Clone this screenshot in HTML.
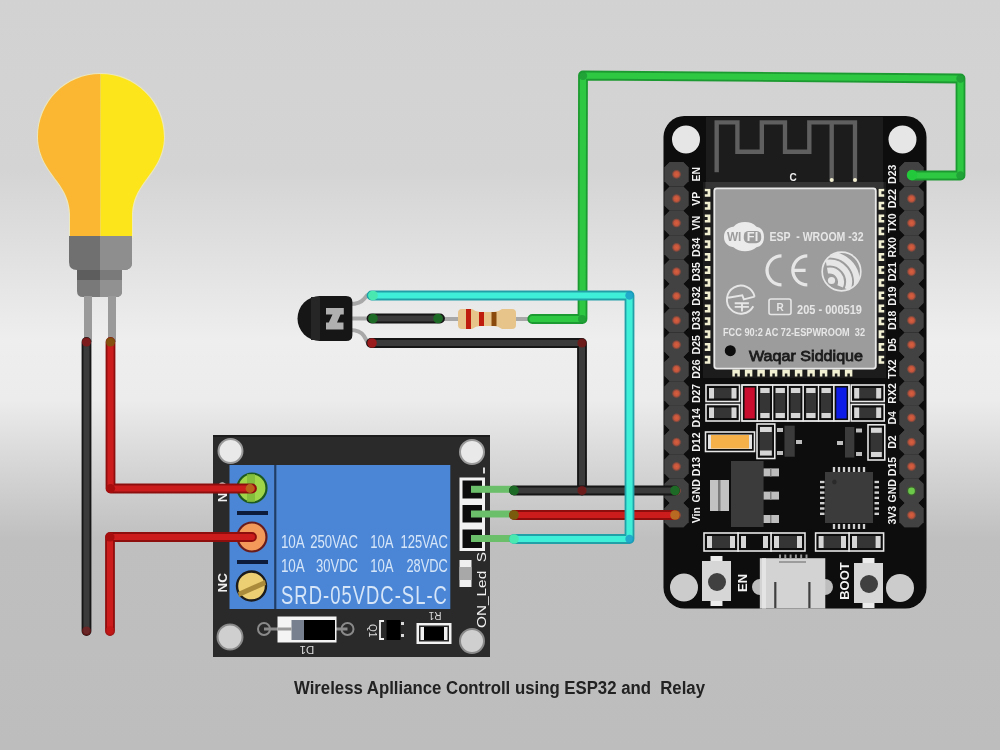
<!DOCTYPE html>
<html><head><meta charset="utf-8">
<style>
html,body{margin:0;padding:0;width:1000px;height:750px;overflow:hidden;background:#bdbdbd;}
svg{display:block;font-family:"Liberation Sans",sans-serif;will-change:transform;}
</style></head>
<body>
<svg width="1000" height="750" viewBox="0 0 1000 750">
<defs>
<filter id="soft" x="0" y="0" width="1000" height="750" filterUnits="userSpaceOnUse"><feGaussianBlur stdDeviation="0.6"/></filter>
<linearGradient id="bg" x1="0" y1="0" x2="0" y2="1">
<stop offset="0" stop-color="#d2d2d2"/>
<stop offset="0.227" stop-color="#d4d4d4"/>
<stop offset="0.333" stop-color="#e0e0e0"/>
<stop offset="0.453" stop-color="#eeeeee"/>
<stop offset="0.533" stop-color="#ececec"/>
<stop offset="0.613" stop-color="#d8d8d8"/>
<stop offset="0.72" stop-color="#bfbfbf"/>
<stop offset="1" stop-color="#bdbdbd"/>
</linearGradient>
<radialGradient id="pindot">
<stop offset="0" stop-color="#d8603f"/>
<stop offset="0.55" stop-color="#c4553b"/>
<stop offset="1" stop-color="#4a4040"/>
</radialGradient>
</defs>
<g filter="url(#soft)">
<rect x="0" y="0" width="1000" height="750" fill="url(#bg)"/>
<!-- BULB -->
<g id="bulb">
<clipPath id="bulbclip"><path d="M100.5,74 C135.5,74 164,102 164,137 C164,157 153,170 145,181 C137,192 132.5,201 132,214 L132,237 L70,237 L70,214 C69.5,201 65,192 57,181 C49,170 38,157 38,137 C38,102 65.5,74 100.5,74 Z"/></clipPath>
<path d="M100.5,74 C135.5,74 164,102 164,137 C164,157 153,170 145,181 C137,192 132.5,201 132,214 L132,237 L70,237 L70,214 C69.5,201 65,192 57,181 C49,170 38,157 38,137 C38,102 65.5,74 100.5,74 Z" fill="none" stroke="#f6efb0" stroke-width="2" opacity="0.7"/>
<g clip-path="url(#bulbclip)">
<rect x="30" y="70" width="70.5" height="170" fill="#fbb733"/>
<rect x="100.5" y="70" width="70" height="170" fill="#fde51f"/>
</g>
<path d="M69,236 L132,236 L132,262 Q132,270 124,270 L77,270 Q69,270 69,262 Z" fill="#6f6f6f"/>
<path d="M100,236 L132,236 L132,262 Q132,270 124,270 L100,270 Z" fill="#8e8e8e"/>
<rect x="77" y="270" width="45" height="10" fill="#5d5d5d"/>
<rect x="100" y="270" width="22" height="10" fill="#7a7a7a"/>
<path d="M77,280 L122,280 L122,291 Q122,297 116,297 L83,297 Q77,297 77,291 Z" fill="#797979"/>
<path d="M100,280 L122,280 L122,291 Q122,297 116,297 L100,297 Z" fill="#919191"/>
<rect x="84" y="296" width="8" height="46" fill="#9a9a9a"/>
<rect x="108" y="296" width="8" height="46" fill="#9a9a9a"/>
</g>

<!-- RELAY BOARD -->
<g id="relay">
<rect x="213" y="435" width="277" height="222" fill="#2a2a2a"/>
<rect x="213" y="435" width="277" height="2" fill="#1a1a1a"/>
<circle cx="230.5" cy="451" r="12" fill="#e9e9e9" stroke="#9a9a9a" stroke-width="2"/>
<circle cx="472" cy="452" r="12" fill="#e9e9e9" stroke="#9a9a9a" stroke-width="2"/>
<circle cx="230" cy="637" r="12.5" fill="#cfcfcf" stroke="#8a8a8a" stroke-width="2"/>
<circle cx="472" cy="641" r="12" fill="#cfcfcf" stroke="#8a8a8a" stroke-width="2"/>
<!-- terminal block -->
<rect x="229.5" y="465" width="45" height="144" fill="#4b86d6"/>
<rect x="274.5" y="465" width="1.8" height="144" fill="#1e3c6a"/>
<rect x="276.3" y="465" width="174" height="144" fill="#4b86d6"/>
<circle cx="252" cy="488" r="14.5" fill="#9fd64a" stroke="#1f5a22" stroke-width="2.2"/>
<path d="M247,474 L255,474 L255,502 L247,502 Z" fill="#7cb83a" opacity="0.8"/>
<rect x="237" y="511" width="31" height="4" fill="#0d1d3a"/>
<circle cx="252" cy="537" r="14.5" fill="#f39a5a" stroke="#6a1f1f" stroke-width="2.2"/>
<rect x="237" y="560" width="31" height="4" fill="#0d1d3a"/>
<circle cx="251.5" cy="586" r="14.5" fill="#eccf72" stroke="#1c1c1c" stroke-width="2.4"/>
<path d="M238,592 L265,580 L266,585 L239,597 Z" fill="#a98b3a"/>
<!-- labels -->
<text transform="translate(226.5,492) rotate(-90)" font-size="13.5" font-weight="bold" fill="#f0f0f0" text-anchor="middle">NO</text>
<text transform="translate(226.5,582.7) rotate(-90)" font-size="13.5" font-weight="bold" fill="#f0f0f0" text-anchor="middle">NC</text>
<!-- text on relay -->
<g fill="#d6e6f8" font-size="17.5">
<text x="280.9" y="548.0" textLength="23.9" lengthAdjust="spacingAndGlyphs">10A</text>
<text x="310.2" y="548.0" textLength="47.8" lengthAdjust="spacingAndGlyphs">250VAC</text>
<text x="370.3" y="548.0" textLength="23.3" lengthAdjust="spacingAndGlyphs">10A</text>
<text x="400.5" y="548.0" textLength="47.3" lengthAdjust="spacingAndGlyphs">125VAC</text>
<text x="280.9" y="572.3" textLength="23.9" lengthAdjust="spacingAndGlyphs">10A</text>
<text x="316.1" y="572.3" textLength="41.9" lengthAdjust="spacingAndGlyphs">30VDC</text>
<text x="370.3" y="572.3" textLength="23.3" lengthAdjust="spacingAndGlyphs">10A</text>
<text x="406.4" y="572.3" textLength="41.4" lengthAdjust="spacingAndGlyphs">28VDC</text>
<text transform="translate(281,603.6) scale(0.7,1)" font-size="26.3" textLength="237" lengthAdjust="spacing">SRD-05VDC-SL-C</text>
</g>
<!-- header -->
<rect x="459.5" y="477.5" width="25.5" height="73.5" fill="#f2f2f2"/>
<rect x="462.5" y="480.5" width="19.5" height="18" fill="#101010"/>
<rect x="462.5" y="505" width="19.5" height="17.5" fill="#101010"/>
<rect x="462.5" y="529.5" width="19.5" height="18.5" fill="#101010"/>
<rect x="483" y="467.5" width="2" height="6" fill="#d8d8d8"/>
<!-- led -->
<rect x="459.5" y="560" width="12" height="27" fill="#f0f0f0"/>
<rect x="459.5" y="567" width="12" height="13" fill="#a8a8a8"/>
<text transform="translate(486,590) rotate(-90)" font-size="13" fill="#f0f0f0" text-anchor="middle" textLength="76" lengthAdjust="spacingAndGlyphs" xml:space="preserve">ON_Led  S</text>
<!-- diode -->
<circle cx="264" cy="629" r="6" fill="none" stroke="#8a8a8a" stroke-width="2"/>
<circle cx="347.5" cy="629" r="6" fill="none" stroke="#8a8a8a" stroke-width="2"/>
<rect x="264" y="627.5" width="83.5" height="3" fill="#8a8a8a"/>
<rect x="277.5" y="616.5" width="59" height="26" fill="#f4f4f4"/>
<rect x="291.5" y="620" width="12.5" height="20" fill="#77808e"/>
<rect x="304" y="620" width="31" height="20" fill="#050505"/>
<rect x="277.5" y="627.5" width="14" height="3" fill="#9a9a9a"/>
<text transform="translate(307,646) rotate(180)" font-size="11.5" fill="#dcdcdc" text-anchor="middle">D1</text>
<!-- Q1 -->
<path d="M384,621 L380,621 L380,639 L384,639" fill="none" stroke="#f0f0f0" stroke-width="1.8"/>
<rect x="386.5" y="620" width="14" height="20" fill="#050505"/>
<rect x="401" y="622" width="3" height="3" fill="#d8d8d8"/>
<rect x="401" y="634" width="3" height="3" fill="#d8d8d8"/>
<text transform="translate(369,624) rotate(90)" font-size="10" fill="#dcdcdc">Q1</text>
<!-- R1 -->
<rect x="416.5" y="623" width="35" height="21" fill="#f2f2f2"/>
<rect x="419" y="625.5" width="30" height="16" fill="#262626"/>
<rect x="424" y="627" width="20" height="13" fill="#050505"/>
<rect x="420.5" y="627" width="3.5" height="13" fill="#f0f0f0"/>
<rect x="444" y="627" width="3.5" height="13" fill="#f0f0f0"/>
<text transform="translate(435,612) rotate(180)" font-size="10" fill="#dcdcdc" text-anchor="middle">R1</text>
</g>


<!-- LEFT WIRES -->
<path d="M86.5,342 L86.5,631" fill="none" stroke="#161616" stroke-width="9.8" stroke-linejoin="round" stroke-linecap="round"/><path d="M86.5,342 L86.5,631" fill="none" stroke="#3a3a3a" stroke-width="6.2" stroke-linejoin="round" stroke-linecap="round"/>
<path d="M110.5,342 L110.5,488.5 L252,488.5" fill="none" stroke="#8e1010" stroke-width="9.8" stroke-linejoin="round" stroke-linecap="round"/><path d="M110.5,342 L110.5,488.5 L252,488.5" fill="none" stroke="#cc1a1a" stroke-width="6.2" stroke-linejoin="round" stroke-linecap="round"/>
<path d="M110,631 L110,537 L252,537" fill="none" stroke="#8e1010" stroke-width="9.8" stroke-linejoin="round" stroke-linecap="round"/><path d="M110,631 L110,537 L252,537" fill="none" stroke="#cc1a1a" stroke-width="6.2" stroke-linejoin="round" stroke-linecap="round"/>
<circle cx="86.5" cy="342" r="4.6" fill="#8a1a1a" opacity="0.85"/>
<circle cx="110.5" cy="342" r="4.6" fill="#7a5a10" opacity="0.85"/>
<circle cx="86.5" cy="631" r="4.6" fill="#8a1a1a" opacity="0.6"/>
<circle cx="110" cy="631" r="4.6" fill="#c01818" opacity="0.6"/>
<circle cx="110.5" cy="488.5" r="4.6" fill="#a81010"/>
<circle cx="110" cy="537" r="4.6" fill="#a81010"/>
<circle cx="250" cy="488.5" r="4.4" fill="#b86a20" opacity="0.9"/>
<!-- ESP32 -->
<g id="esp32">
<rect x="663.5" y="116" width="263" height="492.5" rx="21" ry="21" fill="#070707"/>
<circle cx="686" cy="139.5" r="14" fill="#e6e6e6"/>
<circle cx="902.5" cy="139.5" r="14" fill="#e6e6e6"/>
<circle cx="684" cy="587.5" r="14" fill="#cccccc"/>
<circle cx="900" cy="588" r="14" fill="#cccccc"/>
<rect x="705.5" y="117" width="178" height="66" fill="#1a1a1a"/>
<path d="M716.7,170 L716.7,122.4 L737.4,122.4 L737.4,151.8 L761.8,151.8 L761.8,122.4 L785,122.4 L785,151.8 L809.3,151.8 L809.3,122.4 L855,122.4 L855,179.4 M831.7,122.4 L831.7,179.4" fill="none" stroke="#5e5e5e" stroke-width="4.4" stroke-linecap="square"/>
<circle cx="831.7" cy="180" r="2" fill="#f2eed0"/><circle cx="855" cy="180" r="2" fill="#f2eed0"/>
<text x="793" y="180.5" font-size="10" font-weight="bold" fill="#f0f0f0" text-anchor="middle">C</text>
<rect x="703" y="182" width="183" height="196" fill="#1e1e1e"/>
<path d="M704.8,188.8 h5.6 v8 h-5.6 v-2.5 h2.8 v-3 h-2.8 z M884.2,188.8 h-5.6 v8 h5.6 v-2.5 h-2.8 v-3 h2.8 z M704.8,201.65 h5.6 v8 h-5.6 v-2.5 h2.8 v-3 h-2.8 z M884.2,201.65 h-5.6 v8 h5.6 v-2.5 h-2.8 v-3 h2.8 z M704.8,214.5 h5.6 v8 h-5.6 v-2.5 h2.8 v-3 h-2.8 z M884.2,214.5 h-5.6 v8 h5.6 v-2.5 h-2.8 v-3 h2.8 z M704.8,227.35 h5.6 v8 h-5.6 v-2.5 h2.8 v-3 h-2.8 z M884.2,227.35 h-5.6 v8 h5.6 v-2.5 h-2.8 v-3 h2.8 z M704.8,240.2 h5.6 v8 h-5.6 v-2.5 h2.8 v-3 h-2.8 z M884.2,240.2 h-5.6 v8 h5.6 v-2.5 h-2.8 v-3 h2.8 z M704.8,253.05 h5.6 v8 h-5.6 v-2.5 h2.8 v-3 h-2.8 z M884.2,253.05 h-5.6 v8 h5.6 v-2.5 h-2.8 v-3 h2.8 z M704.8,265.9 h5.6 v8 h-5.6 v-2.5 h2.8 v-3 h-2.8 z M884.2,265.9 h-5.6 v8 h5.6 v-2.5 h-2.8 v-3 h2.8 z M704.8,278.75 h5.6 v8 h-5.6 v-2.5 h2.8 v-3 h-2.8 z M884.2,278.75 h-5.6 v8 h5.6 v-2.5 h-2.8 v-3 h2.8 z M704.8,291.6 h5.6 v8 h-5.6 v-2.5 h2.8 v-3 h-2.8 z M884.2,291.6 h-5.6 v8 h5.6 v-2.5 h-2.8 v-3 h2.8 z M704.8,304.45 h5.6 v8 h-5.6 v-2.5 h2.8 v-3 h-2.8 z M884.2,304.45 h-5.6 v8 h5.6 v-2.5 h-2.8 v-3 h2.8 z M704.8,317.3 h5.6 v8 h-5.6 v-2.5 h2.8 v-3 h-2.8 z M884.2,317.3 h-5.6 v8 h5.6 v-2.5 h-2.8 v-3 h2.8 z M704.8,330.15 h5.6 v8 h-5.6 v-2.5 h2.8 v-3 h-2.8 z M884.2,330.15 h-5.6 v8 h5.6 v-2.5 h-2.8 v-3 h2.8 z M704.8,343 h5.6 v8 h-5.6 v-2.5 h2.8 v-3 h-2.8 z M884.2,343 h-5.6 v8 h5.6 v-2.5 h-2.8 v-3 h2.8 z M704.8,355.85 h5.6 v8 h-5.6 v-2.5 h2.8 v-3 h-2.8 z M884.2,355.85 h-5.6 v8 h5.6 v-2.5 h-2.8 v-3 h2.8 z M732.35,376.5 v-7 h7.5 v7 h-2.5 v-3 h-2.5 v3 z M744.85,376.5 v-7 h7.5 v7 h-2.5 v-3 h-2.5 v3 z M757.35,376.5 v-7 h7.5 v7 h-2.5 v-3 h-2.5 v3 z M769.85,376.5 v-7 h7.5 v7 h-2.5 v-3 h-2.5 v3 z M782.35,376.5 v-7 h7.5 v7 h-2.5 v-3 h-2.5 v3 z M794.85,376.5 v-7 h7.5 v7 h-2.5 v-3 h-2.5 v3 z M807.35,376.5 v-7 h7.5 v7 h-2.5 v-3 h-2.5 v3 z M819.85,376.5 v-7 h7.5 v7 h-2.5 v-3 h-2.5 v3 z M832.35,376.5 v-7 h7.5 v7 h-2.5 v-3 h-2.5 v3 z M844.85,376.5 v-7 h7.5 v7 h-2.5 v-3 h-2.5 v3 z" fill="#f2f0d2"/>
<rect x="705.5" y="182" width="178" height="6.5" fill="#353535"/>
<rect x="714.3" y="188.3" width="161.5" height="180.3" rx="2.5" fill="#9c9c9c" stroke="#e9e9e9" stroke-width="1.8"/>
<path d="M724,237 C724,230.5 728,227.5 733.5,226.8 C736.5,223.3 740.5,222 745,222 C749.5,222 753.5,223.3 756.5,226.8 C761,227.5 764,231 764,237 C764,243 761,246.5 756.5,247.2 C753.5,250 749.5,251.2 745,251.2 C740.5,251.2 736.5,250 733.5,247.2 C728,246.5 724,243 724,237 Z" fill="#ebebeb"/>
<rect x="743.8" y="230.9" width="17.4" height="12.3" rx="5" fill="#9c9c9c"/>
<text x="727" y="240.8" font-size="12.3" font-weight="bold" fill="#9c9c9c" textLength="14.4" lengthAdjust="spacingAndGlyphs">WI</text>
<text x="746.8" y="241" font-size="12.3" font-weight="bold" fill="#ebebeb" textLength="11.4" lengthAdjust="spacingAndGlyphs">FI</text>
<text x="769.5" y="241" font-size="12.5" font-weight="bold" fill="#e6e6e6" textLength="94" lengthAdjust="spacingAndGlyphs" xml:space="preserve">ESP  - WROOM -32</text>
<path d="M781.5,255.8 A14.5,14.5 0 0 0 781.5,284.8 M807.3,255.8 A14.5,14.5 0 0 0 807.3,284.8 M792,270.3 L805.6,270.3" fill="none" stroke="#e6e6e6" stroke-width="3.3"/>
<clipPath id="espclip"><circle cx="841.5" cy="271.5" r="19"/></clipPath>
<circle cx="841.5" cy="271.5" r="19.3" fill="none" stroke="#e6e6e6" stroke-width="1.7"/>
<path clip-path="url(#espclip)" d="M827.50,270.67 A11.5,11.5 0 0 1 840.16,286.31 M826.11,262.80 A19.5,19.5 0 0 1 847.58,289.30 M824.72,254.92 A27.5,27.5 0 0 1 855.00,292.30" fill="none" stroke="#e6e6e6" stroke-width="6"/>
<circle cx="831.5" cy="280.5" r="3.6" fill="#e6e6e6"/>
<path d="M753.3,306.2 A14,14 0 1 1 754.6,296.7 M728.1,297.7 L742.3,295.2 L743.8,299.3 L754.6,296.7 M734.7,303.3 L748.9,303.3 M734.7,306.9 L748.9,306.9 M742,303 L742,311.4" fill="none" stroke="#e6e6e6" stroke-width="1.9"/>
<rect x="769" y="299" width="22" height="15.5" rx="2" fill="none" stroke="#e6e6e6" stroke-width="1.6"/>
<text x="780" y="311" font-size="10" font-weight="bold" fill="#e6e6e6" text-anchor="middle">R</text>
<text x="797" y="314" font-size="12" font-weight="bold" fill="#e6e6e6" textLength="65" lengthAdjust="spacingAndGlyphs" xml:space="preserve">205 - 000519</text>
<text x="723" y="335.5" font-size="11.5" font-weight="bold" fill="#e6e6e6" textLength="142" lengthAdjust="spacingAndGlyphs" xml:space="preserve">FCC 90:2 AC 72-ESPWROOM  32</text>
<circle cx="730.3" cy="350.7" r="5.5" fill="#0a0a0a"/>
<text x="749" y="361.3" font-size="15.2" fill="#1c1c1c" stroke="#1c1c1c" stroke-width="0.8" textLength="114" lengthAdjust="spacingAndGlyphs">Waqar Siddique</text>
<polygon points="669.5,162.1 683.5,162.1 688.7,167.3 688.7,181.3 683.5,186.5 669.5,186.5 664.3,181.3 664.3,167.3" fill="#434343"/>
<polygon points="669.5,186.45 683.5,186.45 688.7,191.65 688.7,205.65 683.5,210.85 669.5,210.85 664.3,205.65 664.3,191.65" fill="#434343"/>
<polygon points="669.5,210.8 683.5,210.8 688.7,216 688.7,230 683.5,235.2 669.5,235.2 664.3,230 664.3,216" fill="#434343"/>
<polygon points="669.5,235.15 683.5,235.15 688.7,240.35 688.7,254.35 683.5,259.55 669.5,259.55 664.3,254.35 664.3,240.35" fill="#434343"/>
<polygon points="669.5,259.5 683.5,259.5 688.7,264.7 688.7,278.7 683.5,283.9 669.5,283.9 664.3,278.7 664.3,264.7" fill="#434343"/>
<polygon points="669.5,283.85 683.5,283.85 688.7,289.05 688.7,303.05 683.5,308.25 669.5,308.25 664.3,303.05 664.3,289.05" fill="#434343"/>
<polygon points="669.5,308.2 683.5,308.2 688.7,313.4 688.7,327.4 683.5,332.6 669.5,332.6 664.3,327.4 664.3,313.4" fill="#434343"/>
<polygon points="669.5,332.55 683.5,332.55 688.7,337.75 688.7,351.75 683.5,356.95 669.5,356.95 664.3,351.75 664.3,337.75" fill="#434343"/>
<polygon points="669.5,356.9 683.5,356.9 688.7,362.1 688.7,376.1 683.5,381.3 669.5,381.3 664.3,376.1 664.3,362.1" fill="#434343"/>
<polygon points="669.5,381.25 683.5,381.25 688.7,386.45 688.7,400.45 683.5,405.65 669.5,405.65 664.3,400.45 664.3,386.45" fill="#434343"/>
<polygon points="669.5,405.6 683.5,405.6 688.7,410.8 688.7,424.8 683.5,430 669.5,430 664.3,424.8 664.3,410.8" fill="#434343"/>
<polygon points="669.5,429.95 683.5,429.95 688.7,435.15 688.7,449.15 683.5,454.35 669.5,454.35 664.3,449.15 664.3,435.15" fill="#434343"/>
<polygon points="669.5,454.3 683.5,454.3 688.7,459.5 688.7,473.5 683.5,478.7 669.5,478.7 664.3,473.5 664.3,459.5" fill="#434343"/>
<polygon points="669.5,478.65 683.5,478.65 688.7,483.85 688.7,497.85 683.5,503.05 669.5,503.05 664.3,497.85 664.3,483.85" fill="#434343"/>
<polygon points="669.5,503 683.5,503 688.7,508.2 688.7,522.2 683.5,527.4 669.5,527.4 664.3,522.2 664.3,508.2" fill="#434343"/>
<circle cx="676.5" cy="174.3" r="4.8" fill="url(#pindot)"/>
<text transform="translate(700.3,174.3) rotate(-90)" font-size="10.5" font-weight="bold" fill="#f2f2f2" text-anchor="middle">EN</text>
<circle cx="676.5" cy="198.65" r="4.8" fill="url(#pindot)"/>
<text transform="translate(700.3,198.65) rotate(-90)" font-size="10.5" font-weight="bold" fill="#f2f2f2" text-anchor="middle">VP</text>
<circle cx="676.5" cy="223" r="4.8" fill="url(#pindot)"/>
<text transform="translate(700.3,223) rotate(-90)" font-size="10.5" font-weight="bold" fill="#f2f2f2" text-anchor="middle">VN</text>
<circle cx="676.5" cy="247.35" r="4.8" fill="url(#pindot)"/>
<text transform="translate(700.3,247.35) rotate(-90)" font-size="10.5" font-weight="bold" fill="#f2f2f2" text-anchor="middle">D34</text>
<circle cx="676.5" cy="271.7" r="4.8" fill="url(#pindot)"/>
<text transform="translate(700.3,271.7) rotate(-90)" font-size="10.5" font-weight="bold" fill="#f2f2f2" text-anchor="middle">D35</text>
<circle cx="676.5" cy="296.05" r="4.8" fill="url(#pindot)"/>
<text transform="translate(700.3,296.05) rotate(-90)" font-size="10.5" font-weight="bold" fill="#f2f2f2" text-anchor="middle">D32</text>
<circle cx="676.5" cy="320.4" r="4.8" fill="url(#pindot)"/>
<text transform="translate(700.3,320.4) rotate(-90)" font-size="10.5" font-weight="bold" fill="#f2f2f2" text-anchor="middle">D33</text>
<circle cx="676.5" cy="344.75" r="4.8" fill="url(#pindot)"/>
<text transform="translate(700.3,344.75) rotate(-90)" font-size="10.5" font-weight="bold" fill="#f2f2f2" text-anchor="middle">D25</text>
<circle cx="676.5" cy="369.1" r="4.8" fill="url(#pindot)"/>
<text transform="translate(700.3,369.1) rotate(-90)" font-size="10.5" font-weight="bold" fill="#f2f2f2" text-anchor="middle">D26</text>
<circle cx="676.5" cy="393.45" r="4.8" fill="url(#pindot)"/>
<text transform="translate(700.3,393.45) rotate(-90)" font-size="10.5" font-weight="bold" fill="#f2f2f2" text-anchor="middle">D27</text>
<circle cx="676.5" cy="417.8" r="4.8" fill="url(#pindot)"/>
<text transform="translate(700.3,417.8) rotate(-90)" font-size="10.5" font-weight="bold" fill="#f2f2f2" text-anchor="middle">D14</text>
<circle cx="676.5" cy="442.15" r="4.8" fill="url(#pindot)"/>
<text transform="translate(700.3,442.15) rotate(-90)" font-size="10.5" font-weight="bold" fill="#f2f2f2" text-anchor="middle">D12</text>
<circle cx="676.5" cy="466.5" r="4.8" fill="url(#pindot)"/>
<text transform="translate(700.3,466.5) rotate(-90)" font-size="10.5" font-weight="bold" fill="#f2f2f2" text-anchor="middle">D13</text>
<circle cx="676.5" cy="490.85" r="4.8" fill="url(#pindot)"/>
<text transform="translate(700.3,490.85) rotate(-90)" font-size="10.5" font-weight="bold" fill="#f2f2f2" text-anchor="middle">GND</text>
<circle cx="676.5" cy="515.2" r="4.8" fill="url(#pindot)"/>
<text transform="translate(700.3,515.2) rotate(-90)" font-size="10.5" font-weight="bold" fill="#f2f2f2" text-anchor="middle">Vin</text>
<polygon points="904.5,162.1 918.5,162.1 923.7,167.3 923.7,181.3 918.5,186.5 904.5,186.5 899.3,181.3 899.3,167.3" fill="#434343"/>
<polygon points="904.5,186.45 918.5,186.45 923.7,191.65 923.7,205.65 918.5,210.85 904.5,210.85 899.3,205.65 899.3,191.65" fill="#434343"/>
<polygon points="904.5,210.8 918.5,210.8 923.7,216 923.7,230 918.5,235.2 904.5,235.2 899.3,230 899.3,216" fill="#434343"/>
<polygon points="904.5,235.15 918.5,235.15 923.7,240.35 923.7,254.35 918.5,259.55 904.5,259.55 899.3,254.35 899.3,240.35" fill="#434343"/>
<polygon points="904.5,259.5 918.5,259.5 923.7,264.7 923.7,278.7 918.5,283.9 904.5,283.9 899.3,278.7 899.3,264.7" fill="#434343"/>
<polygon points="904.5,283.85 918.5,283.85 923.7,289.05 923.7,303.05 918.5,308.25 904.5,308.25 899.3,303.05 899.3,289.05" fill="#434343"/>
<polygon points="904.5,308.2 918.5,308.2 923.7,313.4 923.7,327.4 918.5,332.6 904.5,332.6 899.3,327.4 899.3,313.4" fill="#434343"/>
<polygon points="904.5,332.55 918.5,332.55 923.7,337.75 923.7,351.75 918.5,356.95 904.5,356.95 899.3,351.75 899.3,337.75" fill="#434343"/>
<polygon points="904.5,356.9 918.5,356.9 923.7,362.1 923.7,376.1 918.5,381.3 904.5,381.3 899.3,376.1 899.3,362.1" fill="#434343"/>
<polygon points="904.5,381.25 918.5,381.25 923.7,386.45 923.7,400.45 918.5,405.65 904.5,405.65 899.3,400.45 899.3,386.45" fill="#434343"/>
<polygon points="904.5,405.6 918.5,405.6 923.7,410.8 923.7,424.8 918.5,430 904.5,430 899.3,424.8 899.3,410.8" fill="#434343"/>
<polygon points="904.5,429.95 918.5,429.95 923.7,435.15 923.7,449.15 918.5,454.35 904.5,454.35 899.3,449.15 899.3,435.15" fill="#434343"/>
<polygon points="904.5,454.3 918.5,454.3 923.7,459.5 923.7,473.5 918.5,478.7 904.5,478.7 899.3,473.5 899.3,459.5" fill="#434343"/>
<polygon points="904.5,478.65 918.5,478.65 923.7,483.85 923.7,497.85 918.5,503.05 904.5,503.05 899.3,497.85 899.3,483.85" fill="#434343"/>
<polygon points="904.5,503 918.5,503 923.7,508.2 923.7,522.2 918.5,527.4 904.5,527.4 899.3,522.2 899.3,508.2" fill="#434343"/>
<circle cx="911.5" cy="174.3" r="4.8" fill="url(#pindot)"/>
<text transform="translate(896.3,174.3) rotate(-90)" font-size="10.5" font-weight="bold" fill="#f2f2f2" text-anchor="middle">D23</text>
<circle cx="911.5" cy="198.65" r="4.8" fill="url(#pindot)"/>
<text transform="translate(896.3,198.65) rotate(-90)" font-size="10.5" font-weight="bold" fill="#f2f2f2" text-anchor="middle">D22</text>
<circle cx="911.5" cy="223" r="4.8" fill="url(#pindot)"/>
<text transform="translate(896.3,223) rotate(-90)" font-size="10.5" font-weight="bold" fill="#f2f2f2" text-anchor="middle">TX0</text>
<circle cx="911.5" cy="247.35" r="4.8" fill="url(#pindot)"/>
<text transform="translate(896.3,247.35) rotate(-90)" font-size="10.5" font-weight="bold" fill="#f2f2f2" text-anchor="middle">RX0</text>
<circle cx="911.5" cy="271.7" r="4.8" fill="url(#pindot)"/>
<text transform="translate(896.3,271.7) rotate(-90)" font-size="10.5" font-weight="bold" fill="#f2f2f2" text-anchor="middle">D21</text>
<circle cx="911.5" cy="296.05" r="4.8" fill="url(#pindot)"/>
<text transform="translate(896.3,296.05) rotate(-90)" font-size="10.5" font-weight="bold" fill="#f2f2f2" text-anchor="middle">D19</text>
<circle cx="911.5" cy="320.4" r="4.8" fill="url(#pindot)"/>
<text transform="translate(896.3,320.4) rotate(-90)" font-size="10.5" font-weight="bold" fill="#f2f2f2" text-anchor="middle">D18</text>
<circle cx="911.5" cy="344.75" r="4.8" fill="url(#pindot)"/>
<text transform="translate(896.3,344.75) rotate(-90)" font-size="10.5" font-weight="bold" fill="#f2f2f2" text-anchor="middle">D5</text>
<circle cx="911.5" cy="369.1" r="4.8" fill="url(#pindot)"/>
<text transform="translate(896.3,369.1) rotate(-90)" font-size="10.5" font-weight="bold" fill="#f2f2f2" text-anchor="middle">TX2</text>
<circle cx="911.5" cy="393.45" r="4.8" fill="url(#pindot)"/>
<text transform="translate(896.3,393.45) rotate(-90)" font-size="10.5" font-weight="bold" fill="#f2f2f2" text-anchor="middle">RX2</text>
<circle cx="911.5" cy="417.8" r="4.8" fill="url(#pindot)"/>
<text transform="translate(896.3,417.8) rotate(-90)" font-size="10.5" font-weight="bold" fill="#f2f2f2" text-anchor="middle">D4</text>
<circle cx="911.5" cy="442.15" r="4.8" fill="url(#pindot)"/>
<text transform="translate(896.3,442.15) rotate(-90)" font-size="10.5" font-weight="bold" fill="#f2f2f2" text-anchor="middle">D2</text>
<circle cx="911.5" cy="466.5" r="4.8" fill="url(#pindot)"/>
<text transform="translate(896.3,466.5) rotate(-90)" font-size="10.5" font-weight="bold" fill="#f2f2f2" text-anchor="middle">D15</text>
<circle cx="911.5" cy="490.85" r="4.8" fill="url(#pindot)"/>
<text transform="translate(896.3,490.85) rotate(-90)" font-size="10.5" font-weight="bold" fill="#f2f2f2" text-anchor="middle">GND</text>
<circle cx="911.5" cy="515.2" r="4.8" fill="url(#pindot)"/>
<text transform="translate(896.3,515.2) rotate(-90)" font-size="10.5" font-weight="bold" fill="#f2f2f2" text-anchor="middle">3V3</text>
<circle cx="911.5" cy="491" r="4.8" fill="#3a5a30"/><circle cx="911.5" cy="491" r="3.4" fill="#6cc84a"/>
<rect x="706" y="385" width="33.5" height="16.5" fill="none" stroke="#e8e8e8" stroke-width="1.6"/><rect x="709" y="388" width="27.5" height="10.5" fill="#343434"/><rect x="709" y="388" width="5" height="10.5" fill="#d6d6d6"/><rect x="731.5" y="388" width="5" height="10.5" fill="#d6d6d6"/>
<rect x="706" y="404.5" width="33.5" height="16.5" fill="none" stroke="#e8e8e8" stroke-width="1.6"/><rect x="709" y="407.5" width="27.5" height="10.5" fill="#343434"/><rect x="709" y="407.5" width="5" height="10.5" fill="#d6d6d6"/><rect x="731.5" y="407.5" width="5" height="10.5" fill="#d6d6d6"/>
<rect x="851.2" y="385" width="33" height="16.5" fill="none" stroke="#e8e8e8" stroke-width="1.6"/><rect x="854.2" y="388" width="27" height="10.5" fill="#343434"/><rect x="854.2" y="388" width="5" height="10.5" fill="#d6d6d6"/><rect x="876.2" y="388" width="5" height="10.5" fill="#d6d6d6"/>
<rect x="851.2" y="404.5" width="33" height="16.5" fill="none" stroke="#e8e8e8" stroke-width="1.6"/><rect x="854.2" y="407.5" width="27" height="10.5" fill="#343434"/><rect x="854.2" y="407.5" width="5" height="10.5" fill="#d6d6d6"/><rect x="876.2" y="407.5" width="5" height="10.5" fill="#d6d6d6"/>
<rect x="742" y="385" width="107" height="36" fill="none" stroke="#e8e8e8" stroke-width="1.6"/>
<rect x="742" y="385" width="15.3" height="36" fill="none" stroke="#e8e8e8" stroke-width="1.2"/>
<rect x="744.5" y="387.5" width="10.3" height="31" fill="#c8102e"/>
<rect x="757.3" y="385" width="15.3" height="36" fill="none" stroke="#e8e8e8" stroke-width="1.2"/>
<rect x="759.8" y="387.5" width="10.3" height="31" fill="#343434"/>
<rect x="760.3" y="388" width="9.3" height="5" fill="#d6d6d6"/>
<rect x="760.3" y="413" width="9.3" height="5" fill="#d6d6d6"/>
<rect x="772.6" y="385" width="15.3" height="36" fill="none" stroke="#e8e8e8" stroke-width="1.2"/>
<rect x="775.1" y="387.5" width="10.3" height="31" fill="#343434"/>
<rect x="775.6" y="388" width="9.3" height="5" fill="#d6d6d6"/>
<rect x="775.6" y="413" width="9.3" height="5" fill="#d6d6d6"/>
<rect x="787.9" y="385" width="15.3" height="36" fill="none" stroke="#e8e8e8" stroke-width="1.2"/>
<rect x="790.4" y="387.5" width="10.3" height="31" fill="#343434"/>
<rect x="790.9" y="388" width="9.3" height="5" fill="#d6d6d6"/>
<rect x="790.9" y="413" width="9.3" height="5" fill="#d6d6d6"/>
<rect x="803.2" y="385" width="15.3" height="36" fill="none" stroke="#e8e8e8" stroke-width="1.2"/>
<rect x="805.7" y="387.5" width="10.3" height="31" fill="#343434"/>
<rect x="806.2" y="388" width="9.3" height="5" fill="#d6d6d6"/>
<rect x="806.2" y="413" width="9.3" height="5" fill="#d6d6d6"/>
<rect x="818.5" y="385" width="15.3" height="36" fill="none" stroke="#e8e8e8" stroke-width="1.2"/>
<rect x="821" y="387.5" width="10.3" height="31" fill="#343434"/>
<rect x="821.5" y="388" width="9.3" height="5" fill="#d6d6d6"/>
<rect x="821.5" y="413" width="9.3" height="5" fill="#d6d6d6"/>
<rect x="833.8" y="385" width="15.3" height="36" fill="none" stroke="#e8e8e8" stroke-width="1.2"/>
<rect x="836.3" y="387.5" width="10.3" height="31" fill="#0a1ee6"/>
<rect x="705.5" y="432" width="49" height="19.5" fill="none" stroke="#e8e8e8" stroke-width="1.6"/>
<rect x="708" y="434.5" width="44" height="14.5" fill="#e3e3e3"/>
<rect x="711" y="435" width="38" height="13.5" fill="#f5b04a"/>
<rect x="757" y="424" width="17.8" height="34.5" fill="none" stroke="#e8e8e8" stroke-width="1.6"/><rect x="759.5" y="426.5" width="12.8" height="29.5" fill="#343434"/><rect x="760" y="427" width="11.8" height="5" fill="#d6d6d6"/><rect x="760" y="450.5" width="11.8" height="5" fill="#d6d6d6"/>
<rect x="868" y="424.8" width="16.8" height="35.2" fill="none" stroke="#e8e8e8" stroke-width="1.6"/><rect x="870.5" y="427.3" width="11.8" height="30.2" fill="#343434"/><rect x="871" y="427.8" width="10.8" height="5" fill="#d6d6d6"/><rect x="871" y="452" width="10.8" height="5" fill="#d6d6d6"/>
<rect x="784.4" y="425.6" width="10.4" height="31.2" fill="#3a3a3a"/>
<rect x="777" y="428" width="6" height="4" fill="#bdbdbd"/><rect x="777" y="451" width="6" height="4" fill="#bdbdbd"/><rect x="796" y="440" width="6" height="4" fill="#bdbdbd"/>
<rect x="844.8" y="427" width="9.6" height="30.6" fill="#3a3a3a"/>
<rect x="856" y="428.5" width="6" height="4" fill="#bdbdbd"/><rect x="856" y="452" width="6" height="4" fill="#bdbdbd"/><rect x="837" y="441" width="6" height="4" fill="#bdbdbd"/>
<rect x="731" y="461" width="32.6" height="66" fill="#3b3b3b"/>
<rect x="763.6" y="468.4" width="15.4" height="8" fill="#bdbdbd"/><rect x="770" y="468.4" width="1.5" height="8" fill="#808080"/>
<rect x="763.6" y="491.6" width="15.4" height="8" fill="#bdbdbd"/><rect x="770" y="491.6" width="1.5" height="8" fill="#808080"/>
<rect x="763.6" y="515" width="15.4" height="8" fill="#bdbdbd"/><rect x="770" y="515" width="1.5" height="8" fill="#808080"/>
<rect x="710" y="480" width="19" height="31" fill="#c2c2c2"/><rect x="718" y="480" width="2.5" height="31" fill="#7a7a7a"/>
<rect x="825" y="472" width="48" height="51" fill="#3a3a3a"/>
<circle cx="834.4" cy="482" r="2.2" fill="#2a2a2a"/>
<rect x="832.8" y="467" width="2.4" height="5" fill="#cfcfcf"/><rect x="832.8" y="524" width="2.4" height="5" fill="#cfcfcf"/>
<rect x="820" y="480.8" width="4.5" height="2.4" fill="#cfcfcf"/><rect x="874.5" y="480.8" width="4.5" height="2.4" fill="#cfcfcf"/>
<rect x="837.8" y="467" width="2.4" height="5" fill="#cfcfcf"/><rect x="837.8" y="524" width="2.4" height="5" fill="#cfcfcf"/>
<rect x="820" y="486.1" width="4.5" height="2.4" fill="#cfcfcf"/><rect x="874.5" y="486.1" width="4.5" height="2.4" fill="#cfcfcf"/>
<rect x="842.8" y="467" width="2.4" height="5" fill="#cfcfcf"/><rect x="842.8" y="524" width="2.4" height="5" fill="#cfcfcf"/>
<rect x="820" y="491.4" width="4.5" height="2.4" fill="#cfcfcf"/><rect x="874.5" y="491.4" width="4.5" height="2.4" fill="#cfcfcf"/>
<rect x="847.8" y="467" width="2.4" height="5" fill="#cfcfcf"/><rect x="847.8" y="524" width="2.4" height="5" fill="#cfcfcf"/>
<rect x="820" y="496.7" width="4.5" height="2.4" fill="#cfcfcf"/><rect x="874.5" y="496.7" width="4.5" height="2.4" fill="#cfcfcf"/>
<rect x="852.8" y="467" width="2.4" height="5" fill="#cfcfcf"/><rect x="852.8" y="524" width="2.4" height="5" fill="#cfcfcf"/>
<rect x="820" y="502" width="4.5" height="2.4" fill="#cfcfcf"/><rect x="874.5" y="502" width="4.5" height="2.4" fill="#cfcfcf"/>
<rect x="857.8" y="467" width="2.4" height="5" fill="#cfcfcf"/><rect x="857.8" y="524" width="2.4" height="5" fill="#cfcfcf"/>
<rect x="820" y="507.3" width="4.5" height="2.4" fill="#cfcfcf"/><rect x="874.5" y="507.3" width="4.5" height="2.4" fill="#cfcfcf"/>
<rect x="862.8" y="467" width="2.4" height="5" fill="#cfcfcf"/><rect x="862.8" y="524" width="2.4" height="5" fill="#cfcfcf"/>
<rect x="820" y="512.6" width="4.5" height="2.4" fill="#cfcfcf"/><rect x="874.5" y="512.6" width="4.5" height="2.4" fill="#cfcfcf"/>
<rect x="704" y="533" width="101" height="18" fill="none" stroke="#e8e8e8" stroke-width="1.6"/>
<rect x="738" y="533" width="0.1" height="18" fill="none" stroke="#e8e8e8" stroke-width="1.6"/><rect x="771" y="533" width="0.1" height="18" fill="none" stroke="#e8e8e8" stroke-width="1.6"/>
<rect x="707" y="536" width="28" height="12" fill="#343434"/>
<rect x="707" y="536" width="5" height="12" fill="#d6d6d6"/><rect x="730" y="536" width="5" height="12" fill="#d6d6d6"/>
<rect x="741" y="536" width="27" height="12" fill="#0a0a0a"/>
<rect x="741" y="536" width="5" height="12" fill="#d6d6d6"/><rect x="763" y="536" width="5" height="12" fill="#d6d6d6"/>
<rect x="774" y="536" width="28" height="12" fill="#343434"/>
<rect x="774" y="536" width="5" height="12" fill="#d6d6d6"/><rect x="797" y="536" width="5" height="12" fill="#d6d6d6"/>
<rect x="818.6" y="536" width="27.4" height="12" fill="#343434"/>
<rect x="818.6" y="536" width="5" height="12" fill="#d6d6d6"/><rect x="841" y="536" width="5" height="12" fill="#d6d6d6"/>
<rect x="852" y="536" width="28.6" height="12" fill="#343434"/>
<rect x="852" y="536" width="5" height="12" fill="#d6d6d6"/><rect x="875.6" y="536" width="5" height="12" fill="#d6d6d6"/>
<rect x="815.6" y="533" width="68" height="18" fill="none" stroke="#e8e8e8" stroke-width="1.6"/>
<rect x="849" y="533" width="0.1" height="18" fill="none" stroke="#e8e8e8" stroke-width="1.6"/>
<rect x="702" y="561" width="29" height="40" fill="#d6d6d6"/>
<rect x="710.5" y="556" width="12" height="5" fill="#ececec"/><rect x="710.5" y="601" width="12" height="5" fill="#ececec"/>
<circle cx="717" cy="582" r="9" fill="#404040"/>
<rect x="854" y="563" width="29" height="40" fill="#d6d6d6"/>
<rect x="862.5" y="558" width="12" height="5" fill="#ececec"/><rect x="862.5" y="603" width="12" height="5" fill="#ececec"/>
<circle cx="869" cy="584" r="9" fill="#404040"/>
<text transform="translate(746.5,583) rotate(-90)" font-size="13" font-weight="bold" fill="#f2f2f2" text-anchor="middle">EN</text>
<text transform="translate(849,581) rotate(-90)" font-size="13" font-weight="bold" fill="#f2f2f2" text-anchor="middle">BOOT</text>
<circle cx="760" cy="587" r="8" fill="#bdbdbd"/><circle cx="825" cy="587" r="8" fill="#bdbdbd"/>
<rect x="759.8" y="558.2" width="65.5" height="50.3" fill="#d3d3d3"/>
<rect x="762" y="558.2" width="4" height="50.3" fill="#e4e4e4"/>
<path d="M779,562 L806,562" stroke="#8a8a8a" stroke-width="1.5"/>
<rect x="774.2" y="582" width="2.2" height="26" fill="#404040"/><rect x="808.3" y="582" width="2.2" height="26" fill="#404040"/>
<rect x="779" y="554.5" width="2" height="3.5" fill="#9a9a9a"/>
<rect x="784.3" y="554.5" width="2" height="3.5" fill="#9a9a9a"/>
<rect x="789.6" y="554.5" width="2" height="3.5" fill="#9a9a9a"/>
<rect x="794.9" y="554.5" width="2" height="3.5" fill="#9a9a9a"/>
<rect x="800.2" y="554.5" width="2" height="3.5" fill="#9a9a9a"/>
<rect x="805.5" y="554.5" width="2" height="3.5" fill="#9a9a9a"/>
</g>
<!-- TRANSISTOR -->
<path d="M350,304 Q360,304 364,299 L367,295.5 L373,295.5" fill="none" stroke="#a8a8a8" stroke-width="4"/>
<path d="M350,318.5 L373,318.5" fill="none" stroke="#a8a8a8" stroke-width="4"/>
<path d="M350,330 Q360,330 364,336 L368,343 L373,343" fill="none" stroke="#a8a8a8" stroke-width="4"/>
<path d="M320,296 L346,296 Q352.4,296 352.4,302 L352.4,335 Q352.4,341 346,341 L320,341 A22.5,22.5 0 0 1 320,296 Z" fill="#141414"/>
<rect x="311" y="297" width="9" height="43" fill="#262626"/>
<path d="M326,308 L343.8,308 L343.8,314.5 L340.5,314.5 L337,322.5 L343.5,322.5 L343.5,329.5 L326,329.5 L326,322.5 L328.8,322.5 L332.5,314.5 L326,314.5 Z" fill="#b0b0b0"/>
<path d="M440,319 L459,319 M515,319 L533,319" stroke="#a8a8a8" stroke-width="4"/>
<path d="M462,309 L472,309 Q476,312 480,312 L494,312 Q498,312 502,309 L512,309 Q516,309 516,313 L516,325 Q516,329 512,329 L502,329 Q498,326 494,326 L480,326 Q476,326 472,329 L462,329 Q458,329 458,325 L458,313 Q458,309 462,309 Z" fill="#e7c48a"/>
<rect x="466" y="309" width="5" height="20" fill="#c01a10"/>
<rect x="479" y="312" width="5" height="14" fill="#c01a10"/>
<rect x="491.5" y="312" width="5" height="14" fill="#8a4a10"/>
<!-- MID WIRES -->
<rect x="471" y="485.8" width="43" height="7" fill="#6cbf6a"/>
<rect x="471" y="510.5" width="43" height="7" fill="#6cbf6a"/>
<rect x="471" y="535" width="43" height="7" fill="#6cbf6a"/>
<path d="M371.5,318.5 L440,318.5" fill="none" stroke="#161616" stroke-width="9.8" stroke-linejoin="round" stroke-linecap="round"/><path d="M371.5,318.5 L440,318.5" fill="none" stroke="#3a3a3a" stroke-width="6.2" stroke-linejoin="round" stroke-linecap="round"/>
<path d="M371,343 L582,343 L582,490.5" fill="none" stroke="#161616" stroke-width="9.8" stroke-linejoin="round" stroke-linecap="round"/><path d="M371,343 L582,343 L582,490.5" fill="none" stroke="#3a3a3a" stroke-width="6.2" stroke-linejoin="round" stroke-linecap="round"/>
<path d="M514,490.5 L675,490.5" fill="none" stroke="#161616" stroke-width="9.8" stroke-linejoin="round" stroke-linecap="round"/><path d="M514,490.5 L675,490.5" fill="none" stroke="#3a3a3a" stroke-width="6.2" stroke-linejoin="round" stroke-linecap="round"/>
<path d="M514,515 L675,515" fill="none" stroke="#8e1010" stroke-width="9.8" stroke-linejoin="round" stroke-linecap="round"/><path d="M514,515 L675,515" fill="none" stroke="#cc1a1a" stroke-width="6.2" stroke-linejoin="round" stroke-linecap="round"/>
<path d="M532.3,319 L582.5,319 L583,75.5 L960.5,78.5 L960.5,175.5 L912,175.5" fill="none" stroke="#1e9a30" stroke-width="9.8" stroke-linejoin="round" stroke-linecap="round"/><path d="M532.3,319 L582.5,319 L583,75.5 L960.5,78.5 L960.5,175.5 L912,175.5" fill="none" stroke="#2ec843" stroke-width="6.2" stroke-linejoin="round" stroke-linecap="round"/>
<circle cx="583" cy="75.8" r="4.2" fill="#1e9a34" opacity="0.8"/><circle cx="960.5" cy="78.5" r="4.2" fill="#1e9a34" opacity="0.8"/><circle cx="960.5" cy="175.5" r="4.2" fill="#1e9a34" opacity="0.8"/>
<circle cx="912" cy="175" r="5.2" fill="#22c93a"/>
<path d="M371.5,295.5 L629.5,295.5 L629.5,539 L514,539" fill="none" stroke="#23a0a8" stroke-width="9.8" stroke-linejoin="round" stroke-linecap="round"/><path d="M371.5,295.5 L629.5,295.5 L629.5,539 L514,539" fill="none" stroke="#40efd8" stroke-width="6.2" stroke-linejoin="round" stroke-linecap="round"/>
<circle cx="582" cy="490.5" r="4.6" fill="#7a1818" opacity="0.8"/>
<circle cx="582" cy="343" r="4.6" fill="#7a1818" opacity="0.8"/>
<circle cx="372" cy="343" r="4.8" fill="#9a1a1a"/>
<circle cx="373" cy="318.5" r="4.8" fill="#1f6a25"/>
<circle cx="438" cy="318.5" r="4.8" fill="#1f6a25"/>
<circle cx="514" cy="490.5" r="4.8" fill="#1f6a25"/>
<circle cx="514" cy="515" r="4.8" fill="#7a5a10"/>
<circle cx="514" cy="539" r="4.8" fill="#4ae8b0"/>
<circle cx="373" cy="295.5" r="4.8" fill="#4ae8b0"/>
<circle cx="675" cy="490.5" r="4.8" fill="#1f6a25"/>
<circle cx="675" cy="515" r="4.8" fill="#b86a20"/>
<circle cx="629.5" cy="539" r="4.2" fill="#1a98c8" opacity="0.8"/>
<circle cx="629.5" cy="295.5" r="4.2" fill="#1a98c8" opacity="0.8"/>
<circle cx="582" cy="319" r="4" fill="#1e9a34" opacity="0.8"/>
<text x="294" y="693.5" font-size="18" font-weight="bold" fill="#222222" textLength="411" lengthAdjust="spacingAndGlyphs" xml:space="preserve">Wireless Aplliance Controll using ESP32 and  Relay</text>
</g></svg>
</body></html>
